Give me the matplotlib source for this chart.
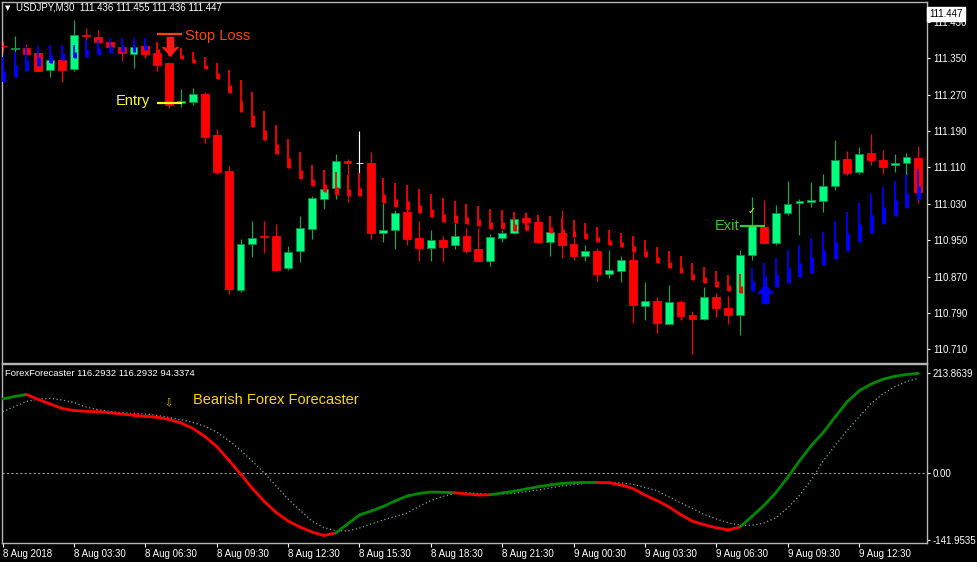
import numpy as np
import matplotlib
matplotlib.use("Agg")
from matplotlib import pyplot as plt
from matplotlib.collections import LineCollection
from matplotlib.path import Path
import matplotlib.transforms as mtransforms

plt.rcParams['font.family'] = ['Liberation Sans', 'DejaVu Sans']

# USDJPY M30 candles, one per bar (8 Aug 00:00 .. 9 Aug 14:30)
opens = [111.377, 111.371, 111.373, 111.361, 111.324, 111.346, 111.326, 111.400, 111.397, 111.386,
         111.374, 111.358, 111.377, 111.361, 111.339, 111.252, 111.254, 111.271, 111.181, 111.102,
         110.840, 110.941, 110.959, 110.959, 110.889, 110.926, 110.975, 111.040, 111.065, 111.124,
         111.119, 111.120, 110.966, 110.972, 111.012, 110.955, 110.933, 110.950, 110.939, 110.960,
         110.930, 110.905, 110.955, 110.965, 110.999, 110.990, 110.945, 110.966, 110.941, 110.914,
         110.925, 110.875, 110.882, 110.906, 110.806, 110.816, 110.766, 110.814, 110.785, 110.776,
         110.826, 110.800, 110.785, 110.917, 110.979, 110.944, 111.010, 111.032, 111.034, 111.037,
         111.070, 111.128, 111.099, 111.142, 111.126, 111.116, 111.119, 111.131]
highs = [111.388, 111.399, 111.381, 111.364, 111.350, 111.350, 111.434, 111.416, 111.412, 111.390,
         111.379, 111.381, 111.383, 111.364, 111.341, 111.281, 111.284, 111.276, 111.194, 111.113,
         110.952, 110.992, 110.992, 110.985, 110.937, 111.003, 111.047, 111.063, 111.139, 111.129,
         111.190, 111.144, 111.032, 111.016, 111.032, 110.992, 110.972, 110.960, 110.988, 110.976,
         110.977, 110.963, 110.972, 111.000, 111.012, 111.005, 110.977, 111.016, 110.955, 110.939,
         110.932, 110.928, 110.915, 110.924, 110.859, 110.826, 110.851, 110.818, 110.794, 110.848,
         110.834, 110.828, 110.928, 111.044, 111.038, 111.027, 111.080, 111.040, 111.078, 111.095,
         111.170, 111.146, 111.155, 111.183, 111.148, 111.139, 111.142, 111.157]
lows = [111.363, 111.361, 111.358, 111.321, 111.308, 111.297, 111.322, 111.383, 111.383, 111.361,
        111.344, 111.328, 111.350, 111.322, 111.240, 111.242, 111.247, 111.163, 111.095, 110.832,
        110.836, 110.913, 110.922, 110.882, 110.884, 110.902, 110.952, 111.018, 111.040, 111.034,
        111.097, 110.952, 110.946, 110.930, 110.939, 110.905, 110.905, 110.901, 110.930, 110.922,
        110.903, 110.894, 110.946, 110.963, 110.970, 110.944, 110.914, 110.911, 110.906, 110.904,
        110.860, 110.866, 110.858, 110.767, 110.774, 110.745, 110.763, 110.774, 110.700, 110.774,
        110.780, 110.766, 110.741, 110.906, 110.942, 110.939, 111.005, 110.961, 111.022, 111.012,
        111.060, 111.093, 111.095, 111.114, 111.095, 111.100, 111.093, 111.031]
closes = [111.376, 111.372, 111.359, 111.322, 111.346, 111.324, 111.401, 111.398, 111.386, 111.374,
          111.361, 111.375, 111.359, 111.335, 111.247, 111.255, 111.271, 111.177, 111.100, 110.843,
          110.941, 110.955, 110.956, 110.884, 110.924, 110.977, 111.043, 111.062, 111.124, 111.119,
          111.119, 110.965, 110.972, 111.010, 110.952, 110.933, 110.950, 110.935, 110.960, 110.926,
          110.905, 110.956, 110.965, 110.997, 110.990, 110.945, 110.968, 110.939, 110.914, 110.926,
          110.876, 110.884, 110.906, 110.807, 110.816, 110.767, 110.813, 110.784, 110.777, 110.826,
          110.800, 110.785, 110.917, 110.981, 110.944, 111.009, 111.029, 111.036, 111.038, 111.069,
          111.125, 111.097, 111.139, 111.125, 111.111, 111.120, 111.132, 111.056]

# trend indicator bars (blue = up, red = down)
trend_hi = [111.353, 111.364, 111.375, 111.377, 111.378, 111.379, 111.379, 111.390, 111.390, 111.394,
            111.394, 111.394, 111.394, 111.386, 111.381, 111.372, 111.364, 111.353, 111.339, 111.324,
            111.302, 111.276, 111.234, 111.203, 111.172, 111.144, 111.115, 111.104, 111.100, 111.093,
            111.097, 111.091, 111.086, 111.075, 111.071, 111.062, 111.051, 111.042, 111.036, 111.029,
            111.025, 111.018, 111.016, 111.012, 111.010, 111.005, 111.003, 110.999, 110.994, 110.988,
            110.979, 110.972, 110.966, 110.959, 110.950, 110.935, 110.926, 110.915, 110.900, 110.891,
            110.882, 110.873, 110.876, 110.889, 110.900, 110.911, 110.928, 110.939, 110.955, 110.968,
            110.992, 111.012, 111.032, 111.051, 111.067, 111.080, 111.093, 111.106]
trend_lo = [111.298, 111.309, 111.322, 111.333, 111.340, 111.346, 111.350, 111.353, 111.357, 111.362,
            111.364, 111.364, 111.368, 111.361, 111.355, 111.347, 111.339, 111.325, 111.304, 111.273,
            111.232, 111.199, 111.170, 111.139, 111.108, 111.084, 111.069, 111.056, 111.049, 111.047,
            111.047, 111.038, 111.031, 111.023, 111.016, 111.010, 111.001, 110.990, 110.988, 110.985,
            110.981, 110.974, 110.974, 110.970, 110.972, 110.968, 110.966, 110.961, 110.957, 110.952,
            110.946, 110.939, 110.935, 110.924, 110.913, 110.900, 110.889, 110.878, 110.862, 110.856,
            110.847, 110.838, 110.834, 110.838, 110.847, 110.847, 110.856, 110.869, 110.878, 110.895,
            110.908, 110.926, 110.946, 110.966, 110.985, 111.003, 111.021, 111.038]
trend_up = [1, 1, 1, 1, 1, 1, 1, 1, 1, 1,
            1, 1, 1, 0, 0, 0, 0, 0, 0, 0,
            0, 0, 0, 0, 0, 0, 0, 0, 0, 0,
            0, 0, 0, 0, 0, 0, 0, 0, 0, 0,
            0, 0, 0, 0, 0, 0, 0, 0, 0, 0,
            0, 0, 0, 0, 0, 0, 0, 0, 0, 0,
            0, 0, 0, 1, 1, 1, 1, 1, 1, 1,
            1, 1, 1, 1, 1, 1, 1, 1]

# ForexForecaster oscillator
fc_main = [158.0, 163.4, 167.6, 157.0, 147.4, 137.8, 133.6, 131.9, 131.0, 128.9,
           126.1, 123.4, 121.2, 119.3, 114.4, 107.0, 95.3, 78.3, 57.0, 28.3,
           -1.5, -32.3, -60.0, -83.4, -101.5, -114.2, -124.9, -132.3, -127.0, -107.8,
           -88.7, -80.2, -70.6, -58.9, -48.3, -43.0, -39.8, -40.4, -41.5, -44.0,
           -46.2, -45.7, -41.9, -38.1, -33.4, -28.7, -24.9, -21.5, -20.2, -19.4,
           -19.4, -20.2, -24.9, -32.3, -46.2, -57.9, -71.0, -87.6, -101.9, -109.5,
           -115.7, -120.6, -114.2, -91.9, -68.5, -41.9, -8.9, 26.2, 59.1, 86.8,
           119.8, 151.7, 175.1, 189.5, 199.9, 206.3, 210.1, 212.7]
fc_signal = [131.0, 142.1, 152.7, 157.4, 159.5, 155.9, 150.6, 141.0, 135.3, 131.4,
             128.9, 127.6, 126.1, 122.9, 118.7, 114.0, 108.1, 100.0, 87.8, 69.8,
             49.6, 25.5, 0.6, -27.0, -54.7, -78.7, -101.5, -115.3, -122.1, -122.7,
             -116.3, -107.8, -99.3, -91.9, -84.4, -70.6, -57.9, -49.3, -43.0, -41.7,
             -43.0, -44.7, -44.0, -42.8, -39.3, -35.5, -31.3, -27.0, -24.2, -21.7,
             -20.4, -19.1, -20.4, -23.4, -29.8, -36.6, -49.8, -62.5, -74.9, -87.6,
             -97.2, -105.1, -110.4, -110.6, -105.7, -95.1, -73.8, -47.2, -13.6, 26.2,
             59.1, 91.0, 119.8, 148.0, 168.7, 184.2, 195.3, 202.1]

date_labels = ["8 Aug 2018", "8 Aug 03:30", "8 Aug 06:30", "8 Aug 09:30", "8 Aug 12:30",
               "8 Aug 15:30", "8 Aug 18:30", "8 Aug 21:30", "9 Aug 00:30", "9 Aug 03:30",
               "9 Aug 06:30", "9 Aug 09:30", "9 Aug 12:30"]
price_ticks = [111.430, 111.350, 111.270, 111.190, 111.110, 111.030, 110.950, 110.870, 110.790, 110.710]
fc_ticks = [213.8639, 0.0, -141.9535]
fc_tick_labels = ["213.8639", "0.00", "-141.9535"]

stop_price = 111.402
entry_price = 111.252
exit_price = 110.982
last_price = 111.447

o = np.array(opens)
h = np.array(highs)
l = np.array(lows)
c = np.array(closes)
x = np.arange(len(o))

W, H = 977, 562
fig = plt.figure(figsize=(W / 100, H / 100), dpi=100, facecolor='black')
ax = fig.add_axes([1.5 / W, (H - 362.5) / H, 925.2 / W, 361 / H])
ax2 = fig.add_axes([1.5 / W, (H - 543.3) / H, 925.2 / W, 179.3 / H])

border = '#b4b4b4'
for a in (ax, ax2):
    a.set_facecolor('black')
    for s in a.spines.values():
        s.set_color(border)
        s.set_linewidth(1)
    a.set_xlim(-0.1, 77.7)

# candles
bull = '#00ff7f'
bear = '#ff0000'
body_col = []
edge_col = []
wick_col = []
for i in range(len(o)):
    if c[i] > o[i]:
        body_col.append(bull); edge_col.append('#0c8a44'); wick_col.append('#14a854')
    elif c[i] < o[i]:
        body_col.append(bear); edge_col.append(bear); wick_col.append(bear)
    else:
        body_col.append('white'); edge_col.append('white'); wick_col.append('white')

ax.vlines(x, l, h, colors=wick_col, linewidth=0.85, zorder=2)
ax.bar(x, np.maximum(np.abs(c - o), 0.0012), bottom=np.minimum(o, c), width=0.66,
       color=body_col, edgecolor=edge_col, linewidth=0.6, zorder=3)

# trend bars: thin full range plus thicker lower piece
t_hi = np.array(trend_hi)
t_lo = np.array(trend_lo)
t_up = np.array(trend_up) == 1
t_col = np.where(t_up, '#0000ff', '#ff0000')
frac = np.where(t_up, 0.45, 0.35)
ax.vlines(x, t_lo, t_hi, colors=t_col, linewidth=1.3, zorder=4)
ax.vlines(x + 0.08, t_lo, t_lo + frac * (t_hi - t_lo), colors=t_col, linewidth=2.2, zorder=4)

ax.set_ylim(110.681, 111.4744)
ax.yaxis.tick_right()
ax.set_yticks(price_ticks)
ax.set_yticklabels(["%.3f" % p for p in price_ticks])
ax.tick_params(axis='y', colors='white', labelsize=7, length=2.5, width=0.8, pad=2)
ax.tick_params(axis='x', bottom=False, labelbottom=False)

# arrows
arrow = Path([(0, 1), (0.85, 0.1), (0.35, 0.25), (0.35, -1), (-0.35, -1), (-0.35, 0.25),
              (-0.85, 0.1), (0, 1)],
             [Path.MOVETO] + [Path.LINETO] * 6 + [Path.CLOSEPOLY])
arrow_down = Path(arrow.vertices * np.array([1, -1]), arrow.codes)
ax.plot([14.1], [111.377], marker=arrow_down, markersize=13, color='#ff1a1a', zorder=6)
ax.plot([64.1], [110.832], marker=arrow, markersize=13, color='#0000ff', zorder=6)

# trade levels
ax.hlines(stop_price, 13.0, 15.1, color='#ff4500', linewidth=1.6, zorder=6)
ax.text(15.3, stop_price - 0.003, "Stop Loss", color='#ff4500', fontsize=10.5, ha='left', va='center')
ax.hlines(entry_price, 13.0, 15.1, color='#ffff00', linewidth=1.6, zorder=6)
ax.text(12.4, entry_price + 0.004, "Entry", color='#ffff00', fontsize=10.5, ha='right', va='center')
ax.hlines(exit_price, 62.0, 64.1, color='#32cd32', linewidth=1.6, zorder=6)
ax.text(61.95, exit_price, "Exit", color='#32cd32', fontsize=10.5, ha='right', va='center')
ax.text(63.0, 111.015, "\u2713", color='#ffff00', fontsize=7, ha='center', va='center',
        family=['DejaVu Sans'], zorder=7)

# last price box
trans = mtransforms.blended_transform_factory(ax.transAxes, ax.transData)
ax.text(1.0025, last_price, "111.447", transform=trans, color='black', fontsize=7,
        ha='left', va='center', zorder=10, clip_on=False,
        bbox=dict(boxstyle='square,pad=0.25', facecolor='white', edgecolor='white'))

# header
fig.text(5 / W, 1 - 8 / H, "\u25bc", color='white', fontsize=5, va='center', family=['DejaVu Sans'])
fig.text(16 / W, 1 - 8 / H, "USDJPY,M30  111.436 111.455 111.436 111.447", color='white',
         fontsize=7, va='center')

# oscillator pane
m = np.array(fc_main)
s = np.array(fc_signal)
ax2.set_ylim(-148.9, 232.5)
ax2.axhline(0, color='#9a9a9a', linestyle=(0, (2, 2)), linewidth=0.8)
ax2.plot(x, s, color='#7fa8a8', linestyle=(0, (1, 2)), linewidth=0.9)
pts = np.column_stack([x, m])
segs = np.stack([pts[:-1], pts[1:]], axis=1)
seg_col = ['#008800' if m[i + 1] >= s[i + 1] else '#ff0000' for i in range(len(m) - 1)]
ax2.add_collection(LineCollection(segs, colors=seg_col, linewidths=2.0, capstyle='round', zorder=3))

ax2.yaxis.tick_right()
ax2.set_yticks(fc_ticks)
ax2.set_yticklabels(fc_tick_labels)
ax2.tick_params(axis='y', colors='white', labelsize=7, length=2.5, width=0.8, pad=2)
ax2.set_xticks(range(0, 78, 6))
ax2.set_xticklabels(date_labels, ha='left')
ax2.tick_params(axis='x', colors='white', labelsize=7, length=3, width=0.8, pad=1)

fig.text(5 / W, 1 - 373 / H, "ForexForecaster 116.2932 116.2932 94.3374", color='white',
         fontsize=6.8, va='center')
ax2.text(13.9, 149.5, "\u21e9", color='#e6c800', fontsize=7, ha='center', va='center',
         family=['DejaVu Sans'])
ax2.text(16.0, 155.9, "Bearish Forex Forecaster", color='#ffd700', fontsize=10.5,
         ha='left', va='center')

fig.savefig("out.png", dpi=100, facecolor='black')
